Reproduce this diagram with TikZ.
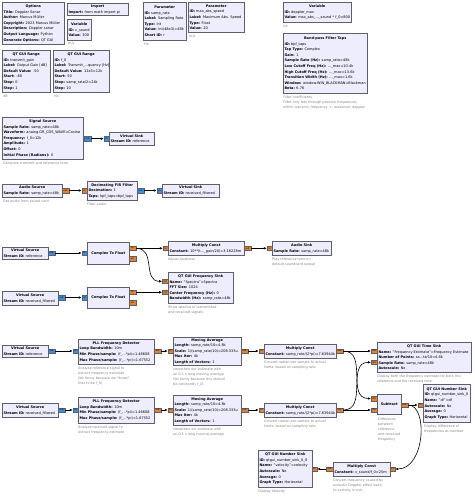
\documentclass[tikz,border=0pt]{standalone}
\usepackage{fontspec}
\setmainfont{DejaVu Sans}
\usetikzlibrary{arrows.meta}
\definecolor{blkfill}{HTML}{EEEDFD}
\definecolor{blkdraw}{HTML}{5E5E6E}
\definecolor{pcx}{HTML}{3A8FD8}
\definecolor{pfl}{HTML}{E6822A}
\definecolor{cmtc}{HTML}{858585}
\newcommand\kk[1]{\textbf{#1}}
\tikzset{
 blkbox/.style={draw=blkdraw, fill=blkfill, line width=0.6pt, inner sep=0pt},
 btext/.style={inner sep=0pt, align=left, font=\fontsize{3.5}{5.6}\selectfont},
 cmt/.style={inner sep=0pt, align=left, text=cmtc, anchor=north west, font=\fontsize{3.4}{4.9}\selectfont},
 port/.style={draw=blkdraw, line width=0.4pt, minimum height=4.4pt, inner sep=0pt, font=\fontsize{2.4}{2.4}\selectfont},
 cn/.style={line width=0.6pt, -{Latex[length=3pt,width=2.6pt]}}
}
\newcommand\blk[7]{%
 \pgfmathsetmacro\blkw{#4-2.6}%
 \node[blkbox, minimum width=#4pt, minimum height=#5pt, anchor=north west] (#1) at (#2,#3) {};
 \node[btext, anchor=west] (#1-x) at ([xshift=1.3pt]#1.west) {\makebox[\blkw pt]{\bfseries #6}\\#7};}
\newcommand\blkt[6]{%
 \node[blkbox, minimum width=#4pt, minimum height=#5pt, anchor=north west] (#1) at (#2,#3) {};
 \node[btext, font=\fontsize{3.5}{5.6}\selectfont\bfseries] (#1-x) at (#1.center) {#6};}
\newcommand\prt[6]{\node[port, fill=#5, minimum width=#4pt] (#1) at (#2,#3) {#6};}
\newcommand\cm[4]{\node[cmt] (#1) at (#2,#3) {#4};}
\begin{document}
\begin{tikzpicture}[x=1pt,y=-1pt]
\fill[white] (0,0) rectangle (474,497);
\useasboundingbox (0,0) rectangle (474,497);

% --- top row
\blk{opt}{2}{2}{62}{42}{Options}{\kk{Title:} Doppler Sonar\\\kk{Author:} Marcus Müller\\\kk{Copyright:} 2023 Marcus Müller\\\kk{Description:} Doppler sonar\\\kk{Output Language:} Python\\\kk{Generate Options:} QT GUI}
\blk{imp}{67}{3}{61}{12}{Import}{\kk{Import:} from math import pi}
\blk{vsnd}{67}{19}{24}{21}{Variable}{\kk{ID:} v\_sound\\\kk{Value:} 300}
\cm{c-vsnd}{68}{42}{m/s}
\blk{psr}{143}{2}{43}{38}{Parameter}{\kk{ID:} samp\_rate\\\kk{Label:} Sampling Rate\\\kk{Type:} Int\\\kk{Value:} int(48e3)=48k\\\kk{Short ID:} r}
\cm{c-psr}{144}{43}{Hz}
\blk{pmax}{188}{2}{56}{30}{Parameter}{\kk{ID:} max\_abs\_speed\\\kk{Label:} Maximum Abs. Speed\\\kk{Type:} Float\\\kk{Value:} 20}
\cm{c-pmax}{189}{35}{m/s}
\blk{vdop}{283}{2}{68}{20}{Variable}{\kk{ID:} doppler\_max\\\kk{Value:} max\_abs\_...\_sound * f\_0=800}
\cm{c-vdop}{283}{25}{Hz}
\blk{rg1}{2}{50}{48}{42}{QT GUI Range}{\kk{ID:} transmit\_gain\\\kk{Label:} Output Gain [dB]\\\kk{Default Value:} -50\\\kk{Start:} -80\\\kk{Stop:} 0\\\kk{Step:} 1}
\cm{c-rg1}{3}{95}{dB}
\blk{rg2}{53}{50}{56}{42}{QT GUI Range}{\kk{ID:} f\_0\\\kk{Label:} Transmit\_...quency [Hz]\\\kk{Default Value:} 12e3=12k\\\kk{Start:} 50\\\kk{Stop:} samp\_rate/2=24k\\\kk{Step:} 10}
\cm{c-rg2}{54}{95}{Hz}
\blk{bpf}{283}{33}{84}{60}{Band-pass Filter Taps}{\kk{ID:} bpf\_taps\\\kk{Tap Type:} Complex\\\kk{Gain:} 1\\\kk{Sample Rate (Hz):} samp\_rate=48k\\\kk{Low Cutoff Freq (Hz):} ...\_max=10.4k\\\kk{High Cutoff Freq (Hz):} ...\_max=13.6k\\\kk{Transition Width (Hz):} ...\_max=1.6k\\\kk{Window:} window.WIN\_BLACKMAN=Blackman\\\kk{Beta:} 6.76}
\cm{c-bpf}{283}{96}{Filter coefficients\\Filter only lets through positive frequencies\\within transmit\_frequency +- maximum doppler}

% --- signal source / audio source
\blk{ss}{2}{117}{81}{42}{Signal Source}{\kk{Sample Rate:} samp\_rate=48k\\\kk{Waveform:} analog.GR\_COS\_WAVE=Cosine\\\kk{Frequency:} f\_0=12k\\\kk{Amplitude:} 1\\\kk{Offset:} 0\\\kk{Initial Phase (Radians):} 0}
\cm{c-ss}{3}{162}{Generate transmit and reference tone}
\blk{vsk1}{109}{132}{45}{13}{Virtual Sink}{\kk{Stream ID:} reference}
\prt{ss-out}{87.5}{138.7}{7}{pcx}{out}
\prt{vsk1-in}{106.5}{138.7}{5}{pcx}{in}

\blk{asrc}{2}{184}{60}{13}{Audio Source}{\kk{Sample Rate:} samp\_rate=48k}
\cm{c-asrc}{3}{200}{Get audio from sound card}
\blk{dfir}{87}{181}{50}{19}{Decimating FIR Filter}{\kk{Decimation:} 1\\\kk{Taps:} bpf\_taps=bpf\_taps}
\cm{c-dfir}{87}{203}{Filter audio}
\blk{vsk2}{162}{184}{57}{13}{Virtual Sink}{\kk{Stream ID:} received\_filtered}
\prt{as-out}{65.5}{190.5}{7}{pfl}{out}
\prt{dfir-in}{84.5}{190.5}{5}{pfl}{in}
\prt{dfir-out}{140.5}{190.5}{7}{pcx}{out}
\prt{vsk2-in}{159.5}{190.5}{5}{pcx}{in}

% --- spectra section
\blk{vs1}{2}{247}{46}{12}{Virtual Source}{\kk{Stream ID:} reference}
\blkt{ctf1}{87}{242}{42}{22}{Complex To Float}
\blk{mc1}{168}{241}{76}{14}{Multiply Const}{\kk{Constant:} 10**(t...\_gain/20)=3.16228m}
\cm{c-mc1}{168}{258}{Adjust loudness}
\blk{ask}{272}{241}{59}{14}{Audio Sink}{\kk{Sample Rate:} samp\_rate=48k}
\cm{c-ask}{272}{258}{Play reference tone on\\default soundcard output}
\blk{fs}{168}{272}{65}{31}{QT GUI Frequency Sink}{\kk{Name:} "Spectra"=Spectra\\\kk{FFT Size:} 1024\\\kk{Center Frequency (Hz):} 0\\\kk{Bandwidth (Hz):} samp\_rate=48k}
\cm{c-fs}{168}{306}{Show spectra of transmitted\\and received signals}
\blk{vs2}{2}{291}{56}{14}{Virtual Source}{\kk{Stream ID:} received\_filtered}
\blkt{ctf2}{87}{287}{42}{21}{Complex To Float}

\prt{vs1-out}{51.5}{253}{7}{pcx}{out}
\prt{ctf1-in}{84.5}{253}{5}{pcx}{in}
\prt{ctf1-re}{132.5}{248.3}{7}{pfl}{re}
\prt{ctf1-im}{132.5}{258.7}{7}{pfl}{im}
\prt{mc1-in}{165.5}{248.3}{5}{pfl}{in}
\prt{mc1-out}{247.5}{248.3}{7}{pfl}{out}
\prt{ask-in}{269.5}{248.3}{5}{pfl}{in}
\prt{fs-in0}{165.2}{281.3}{5.6}{pfl}{in0}
\prt{fs-in1}{165.2}{292.3}{5.6}{pfl}{in1}
\prt{vs2-out}{61.5}{297.5}{7}{pcx}{out}
\prt{ctf2-in}{84.5}{297.5}{5}{pcx}{in}
\prt{ctf2-re}{132.5}{292.3}{7}{pfl}{re}
\prt{ctf2-im}{132.5}{302.7}{7}{pfl}{im}

% --- PLL row 1
\blk{vs3}{2}{345}{46}{12}{Virtual Source}{\kk{Stream ID:} reference}
\blk{pll1}{78}{339}{76}{25}{PLL Frequency Detector}{\kk{Loop Bandwidth:} 10m\\\kk{Min Phase/sample:} (f\_...*pi)=1.46608\\\kk{Max Phase/sample:} (f\_...*pi)=1.67552}
\cm{c-pll1}{78}{367}{Analyze reference signal to\\extract frequency estimate\\(bit funny because we *know*\\that to be f\_0)}
\blk{ma1}{173}{337}{68}{28}{Moving Average}{\kk{Length:} samp\_rate/10=4.8k\\\kk{Scale:} 1/(samp\_rate/10)=208.333u\\\kk{Max Iter:} 4k\\\kk{Length of Vectors:} 1}
\cm{c-ma1}{173}{368}{smoothen our estimate with\\an 0.1 s long moving average\\(bit funny because this should\\be constantly f\_0)}
\blk{mc2}{264}{344}{72}{14}{Multiply Const}{\kk{Constant:} samp\_rate/(2*pi)=7.63944k}
\cm{c-mc2}{264}{361}{Convert radian per sample to actual\\Hertz, based on sampling rate}
\blk{ts}{377}{342}{94}{30}{QT GUI Time Sink}{\kk{Name:} "Frequency Estimate"=Frequency Estimate\\\kk{Number of Points:} sa...te/10=4.8k\\\kk{Sample Rate:} samp\_rate=48k\\\kk{Autoscale:} No}
\cm{c-ts}{377}{375}{Display both the frequency estimate for both the\\reference and the received tone}

\prt{vs3-out}{51.5}{351}{7}{pcx}{out}
\prt{pll1-in}{75.5}{351}{5}{pcx}{in}
\prt{pll1-out}{157.5}{351}{7}{pfl}{out}
\prt{ma1-in}{170.5}{351}{5}{pfl}{in}
\prt{ma1-out}{244.5}{351}{7}{pfl}{out}
\prt{mc2-in}{261.5}{351}{5}{pfl}{in}
\prt{mc2-out}{339.5}{351}{7}{pfl}{out}
\prt{ts-in0}{374}{351}{5.6}{pfl}{in0}
\prt{ts-in1}{374}{362.3}{5.6}{pfl}{in1}

% --- PLL row 2
\blk{vs4}{2}{403}{56}{14}{Virtual Source}{\kk{Stream ID:} received\_filtered}
\blk{pll2}{78}{397}{76}{26}{PLL Frequency Detector}{\kk{Loop Bandwidth:} 10m\\\kk{Min Phase/sample:} (f\_...*pi)=1.46608\\\kk{Max Phase/sample:} (f\_...*pi)=1.67552}
\cm{c-pll2}{78}{426}{Analyze received signal to\\extract frequency estimate}
\blk{ma2}{173}{395}{68}{30}{Moving Average}{\kk{Length:} samp\_rate/10=4.8k\\\kk{Scale:} 1/(samp\_rate/10)=208.333u\\\kk{Max Iter:} 4k\\\kk{Length of Vectors:} 1}
\cm{c-ma2}{173}{428}{smoothen our estimate with\\an 0.1 s long moving average}
\blk{mc3}{264}{403}{72}{14}{Multiply Const}{\kk{Constant:} samp\_rate/(2*pi)=7.63944k}
\cm{c-mc3}{264}{420}{Convert radian per sample to actual\\Hertz, based on sampling rate}
\blkt{sub}{377}{394}{24}{20}{Subtract}
\cm{c-sub}{378}{418}{Difference\\between\\reference\\and received\\frequency}
\blk{ns1}{423}{384}{47}{38}{QT GUI Number Sink}{\kk{ID:} qtgui\_number\_sink\_0\\\kk{Name:} "df"=df\\\kk{Autoscale:} No\\\kk{Average:} 0\\\kk{Graph Type:} Horizontal}
\cm{c-ns1}{424}{425}{Display difference of\\frequencies as number}
\blk{mc4}{333}{462}{57}{14}{Multiply Const}{\kk{Constant:} v\_sound/f\_0=25m}
\cm{c-mc4}{333}{479}{Convert frequency caused by\\acoustic Doppler effect back\\to velocity in m/s}
\blk{ns2}{258}{450}{54}{37}{QT GUI Number Sink}{\kk{ID:} qtgui\_number\_sink\_0\_0\\\kk{Name:} "velocity"=velocity\\\kk{Autoscale:} No\\\kk{Average:} 0\\\kk{Graph Type:} Horizontal}
\cm{c-ns2}{258}{490}{Display Velocity}

\prt{vs4-out}{61.5}{410}{7}{pcx}{out}
\prt{pll2-in}{75.5}{410}{5}{pcx}{in}
\prt{pll2-out}{157.5}{410}{7}{pfl}{out}
\prt{ma2-in}{170.5}{410}{5}{pfl}{in}
\prt{ma2-out}{244.5}{410}{7}{pfl}{out}
\prt{mc3-in}{261.5}{410}{5}{pfl}{in}
\prt{mc3-out}{339.5}{410}{7}{pfl}{out}
\prt{sub-in0}{374}{398.5}{5.6}{pfl}{in0}
\prt{sub-in1}{374}{410}{5.6}{pfl}{in1}
\prt{sub-out}{404.5}{405}{7}{pfl}{out}
\prt{ns1-in}{420.5}{405}{5}{pfl}{in}
\prt{mc4-in}{392.5}{469}{5}{pfl}{in}
\prt{mc4-out}{329.5}{469}{7}{pfl}{out}
\prt{ns2-in}{314.5}{469}{5}{pfl}{in}

% --- connections
\draw[cn] (ss-out.east) -- (vsk1-in.west);
\draw[cn] (as-out.east) -- (dfir-in.west);
\draw[cn] (dfir-out.east) -- (vsk2-in.west);
\draw[cn] (vs1-out.east) -- (ctf1-in.west);
\draw[cn] (ctf1-re.east) -- (mc1-in.west);
\draw[cn] (ctf1-re.east) .. controls +(20,0) and +(-20,0) .. (fs-in0.west);
\draw[cn] (vs2-out.east) -- (ctf2-in.west);
\draw[cn] (ctf2-re.east) -- (fs-in1.west);
\draw[cn] (mc1-out.east) -- (ask-in.west);
\draw[cn] (vs3-out.east) -- (pll1-in.west);
\draw[cn] (pll1-out.east) -- (ma1-in.west);
\draw[cn] (ma1-out.east) -- (mc2-in.west);
\draw[cn] (mc2-out.east) -- (ts-in0.west);
\draw[cn] (mc2-out.east) .. controls +(25,0) and +(-25,0) .. (sub-in0.west);
\draw[cn] (vs4-out.east) -- (pll2-in.west);
\draw[cn] (pll2-out.east) -- (ma2-in.west);
\draw[cn] (ma2-out.east) -- (mc3-in.west);
\draw[cn] (mc3-out.east) -- (sub-in1.west);
\draw[cn] (mc3-out.east) .. controls +(25,0) and +(-25,0) .. (ts-in1.west);
\draw[cn] (sub-out.east) -- (ns1-in.west);
\draw[cn] (sub-out.east) .. controls +(20,0) and +(30,0) .. (mc4-in.east);
\draw[cn] (mc4-out.west) -- (ns2-in.east);
\end{tikzpicture}
\end{document}
